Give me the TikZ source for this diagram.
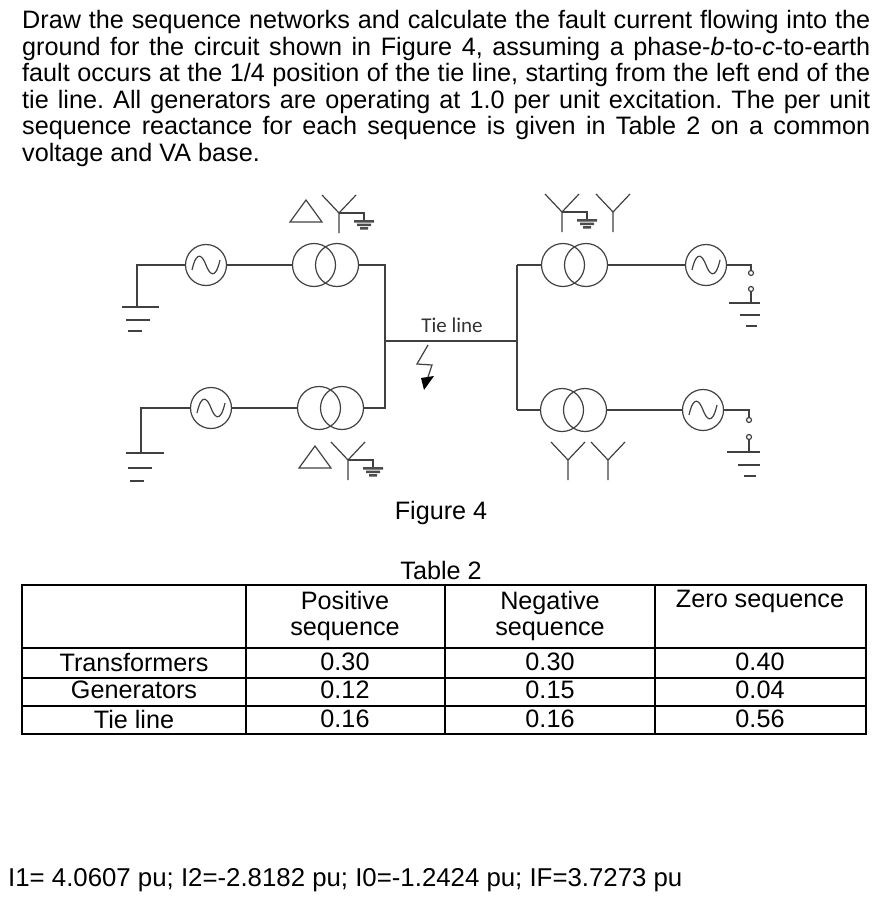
\documentclass[tikz,border=0pt]{standalone}
\usepackage{fontspec}
\setmainfont{Liberation Sans}
\newfontfamily\carlitofont{Carlito}
\begin{document}
\begin{tikzpicture}[x=1pt,y=-1pt,
  w/.style={line width=1.2pt,draw=black!75},
  big/.style={font=\fontsize{25.2}{26.6}\selectfont},
]
\useasboundingbox (0,0) rectangle (883,902);
\node[big,anchor=north west,text width=848,align=justify,inner sep=0] (q) at (22,10)
{\frenchspacing Draw the sequence networks and calculate the fault current flowing into the\linebreak ground for the circuit shown in Figure 4, assuming a phase-\textit{b}-to-\textit{c}-to-earth\linebreak fault occurs at the 1/4 position of the tie line, starting from the left end of the\linebreak tie line. All generators are operating at 1.0 per unit excitation. The per unit\linebreak sequence reactance for each sequence is given in Table 2 on a common\linebreak voltage and VA base.};
\newcommand{\gen}[3]{\node[w,circle,minimum size=41,inner sep=0] (#1) at (#2,#3) {};
 \draw[w] (#2-14,#3+5) .. controls (#2-9,#3-17) and (#2-3,#3-8) .. (#2,#3) .. controls (#2+3,#3+8) and (#2+9,#3+17) .. (#2+14,#3-5);}
\newcommand{\xfmr}[3]{\node[w,circle,minimum size=43,inner sep=0] (#1a) at (#2,#3) {};
 \node[w,circle,minimum size=43,inner sep=0] (#1b) at (#2+23,#3) {};}
\gen{g1}{206}{265}\gen{g2}{211}{408}\gen{g3}{706}{265}\gen{g4}{703}{410}
\xfmr{t1}{314}{265}\xfmr{t2}{319}{408}\xfmr{t3}{563}{265}\xfmr{t4}{562}{410}
\coordinate (n1) at (137,265); \coordinate (n2) at (141,408);
\draw[w] (g1.west) -- (n1) -- (137,307);
\draw[w] (g2.west) -- (n2) -- (141,453);
\draw[w] (122,307)--(159,307) (126,320)--(150,320) (128,331)--(142,331);
\draw[w] (126,453)--(164,453) (128,468)--(152,468) (130,481)--(144,481);
\draw[w] (g1.east) -- (t1a.west); \draw[w] (g2.east) -- (t2a.west);
\coordinate (b1) at (385,265); \coordinate (b2) at (385,408); \coordinate (bl) at (385,341);
\coordinate (br) at (517,341); \coordinate (c1) at (517,265); \coordinate (c2) at (517,410);
\draw[w] (t1b.east) -- (b1) -- (b2) -- (t2b.east);
\draw[w] (bl) -- (br);
\draw[w] (c1) -- (c2);
\draw[w] (c1) -- (t3a.west); \draw[w] (c2) -- (t4a.west);
\draw[w] (t3b.east) -- (g3.west); \draw[w] (t4b.east) -- (g4.west);
\node[font=\carlitofont\fontsize{21}{22}\selectfont,text=black!80] (tl) at (452,325) {Tie line};
\draw[w] (428,345) -- (417,364) -- (432,365) -- (427,380);
\fill[black] (421,378) -- (434,376) -- (424,390) -- cycle;
\draw[w] (g3.east) -- (751,265) -- (751,271);
\draw[w] (751,273) circle (2.5) (751,289) circle (2.5);
\draw[w] (751,292) -- (751,303) (729,303)--(760,303) (740,315)--(760,315) (746,326)--(757,326);
\draw[w] (g4.east) -- (749,410) -- (749,418);
\draw[w] (749,420) circle (2.5) (749,437) circle (2.5);
\draw[w] (749,440) -- (749,452) (727,452)--(760,452) (738,465)--(760,465) (744,476)--(756,476);
\newcommand{\tri}[2]{\draw[w] (#1-16,#2+11) -- (#1,#2-11) -- (#1+16,#2+11) -- cycle;}
\newcommand{\wye}[2]{\draw[w] (#1-17,#2-18) -- (#1,#2) -- (#1+17,#2-18) (#1,#2) -- (#1,#2+20);}
\newcommand{\wyeg}[2]{\wye{#1}{#2}\draw[w] (#1,#2) -- (#1+25,#2) -- (#1+25,#2+7);
 \fill[black!70] (#1+15,#2+7) rectangle (#1+35,#2+9.5) (#1+18,#2+10.5) rectangle (#1+32,#2+13) (#1+21,#2+14) rectangle (#1+29,#2+16.5);}
\tri{306}{211}\wyeg{339}{213}
\tri{315}{457}\wyeg{348}{460}
\wyeg{562}{212}\wye{613}{212}
\wye{568}{460}\wye{608}{460}
\node[big] (f4) at (441,513) {Figure 4};
\node[big] (t2) at (441,570) {Table 2};
\draw[black,line width=1.3pt] (22,585) rectangle (866,734);
\foreach \x in {246,445,655} \draw[black,line width=1.3pt] (\x,585) -- (\x,734);
\foreach \y in {648,678,706} \draw[black,line width=1.3pt] (22,\y) -- (866,\y);
\tikzset{tc/.style={big,align=center,inner sep=0}}
\node[tc] (h1) at (345,616) {Positive\\sequence};
\node[tc] (h2) at (550,616) {Negative\\sequence};
\node[tc] (h3) at (760,601) {Zero sequence};
\node[tc] (r1) at (134,662) {Transformers};
\node[tc] (r2) at (134,690) {Generators};
\node[tc] (r3) at (134,719) {Tie line};
\node[tc] at (345,662) {0.30}; \node[tc] at (550,662) {0.30}; \node[tc] at (760,662) {0.40};
\node[tc] at (345,690) {0.12}; \node[tc] at (550,690) {0.15}; \node[tc] at (760,690) {0.04};
\node[tc] at (345,719) {0.16}; \node[tc] at (550,719) {0.16}; \node[tc] at (760,719) {0.56};
\node[font=\fontsize{25.8}{27}\selectfont,anchor=west,inner sep=0] (ans) at (8,880) {I1= 4.0607 pu; I2=-2.8182 pu; I0=-1.2424 pu; IF=3.7273 pu};
\end{tikzpicture}
\end{document}
